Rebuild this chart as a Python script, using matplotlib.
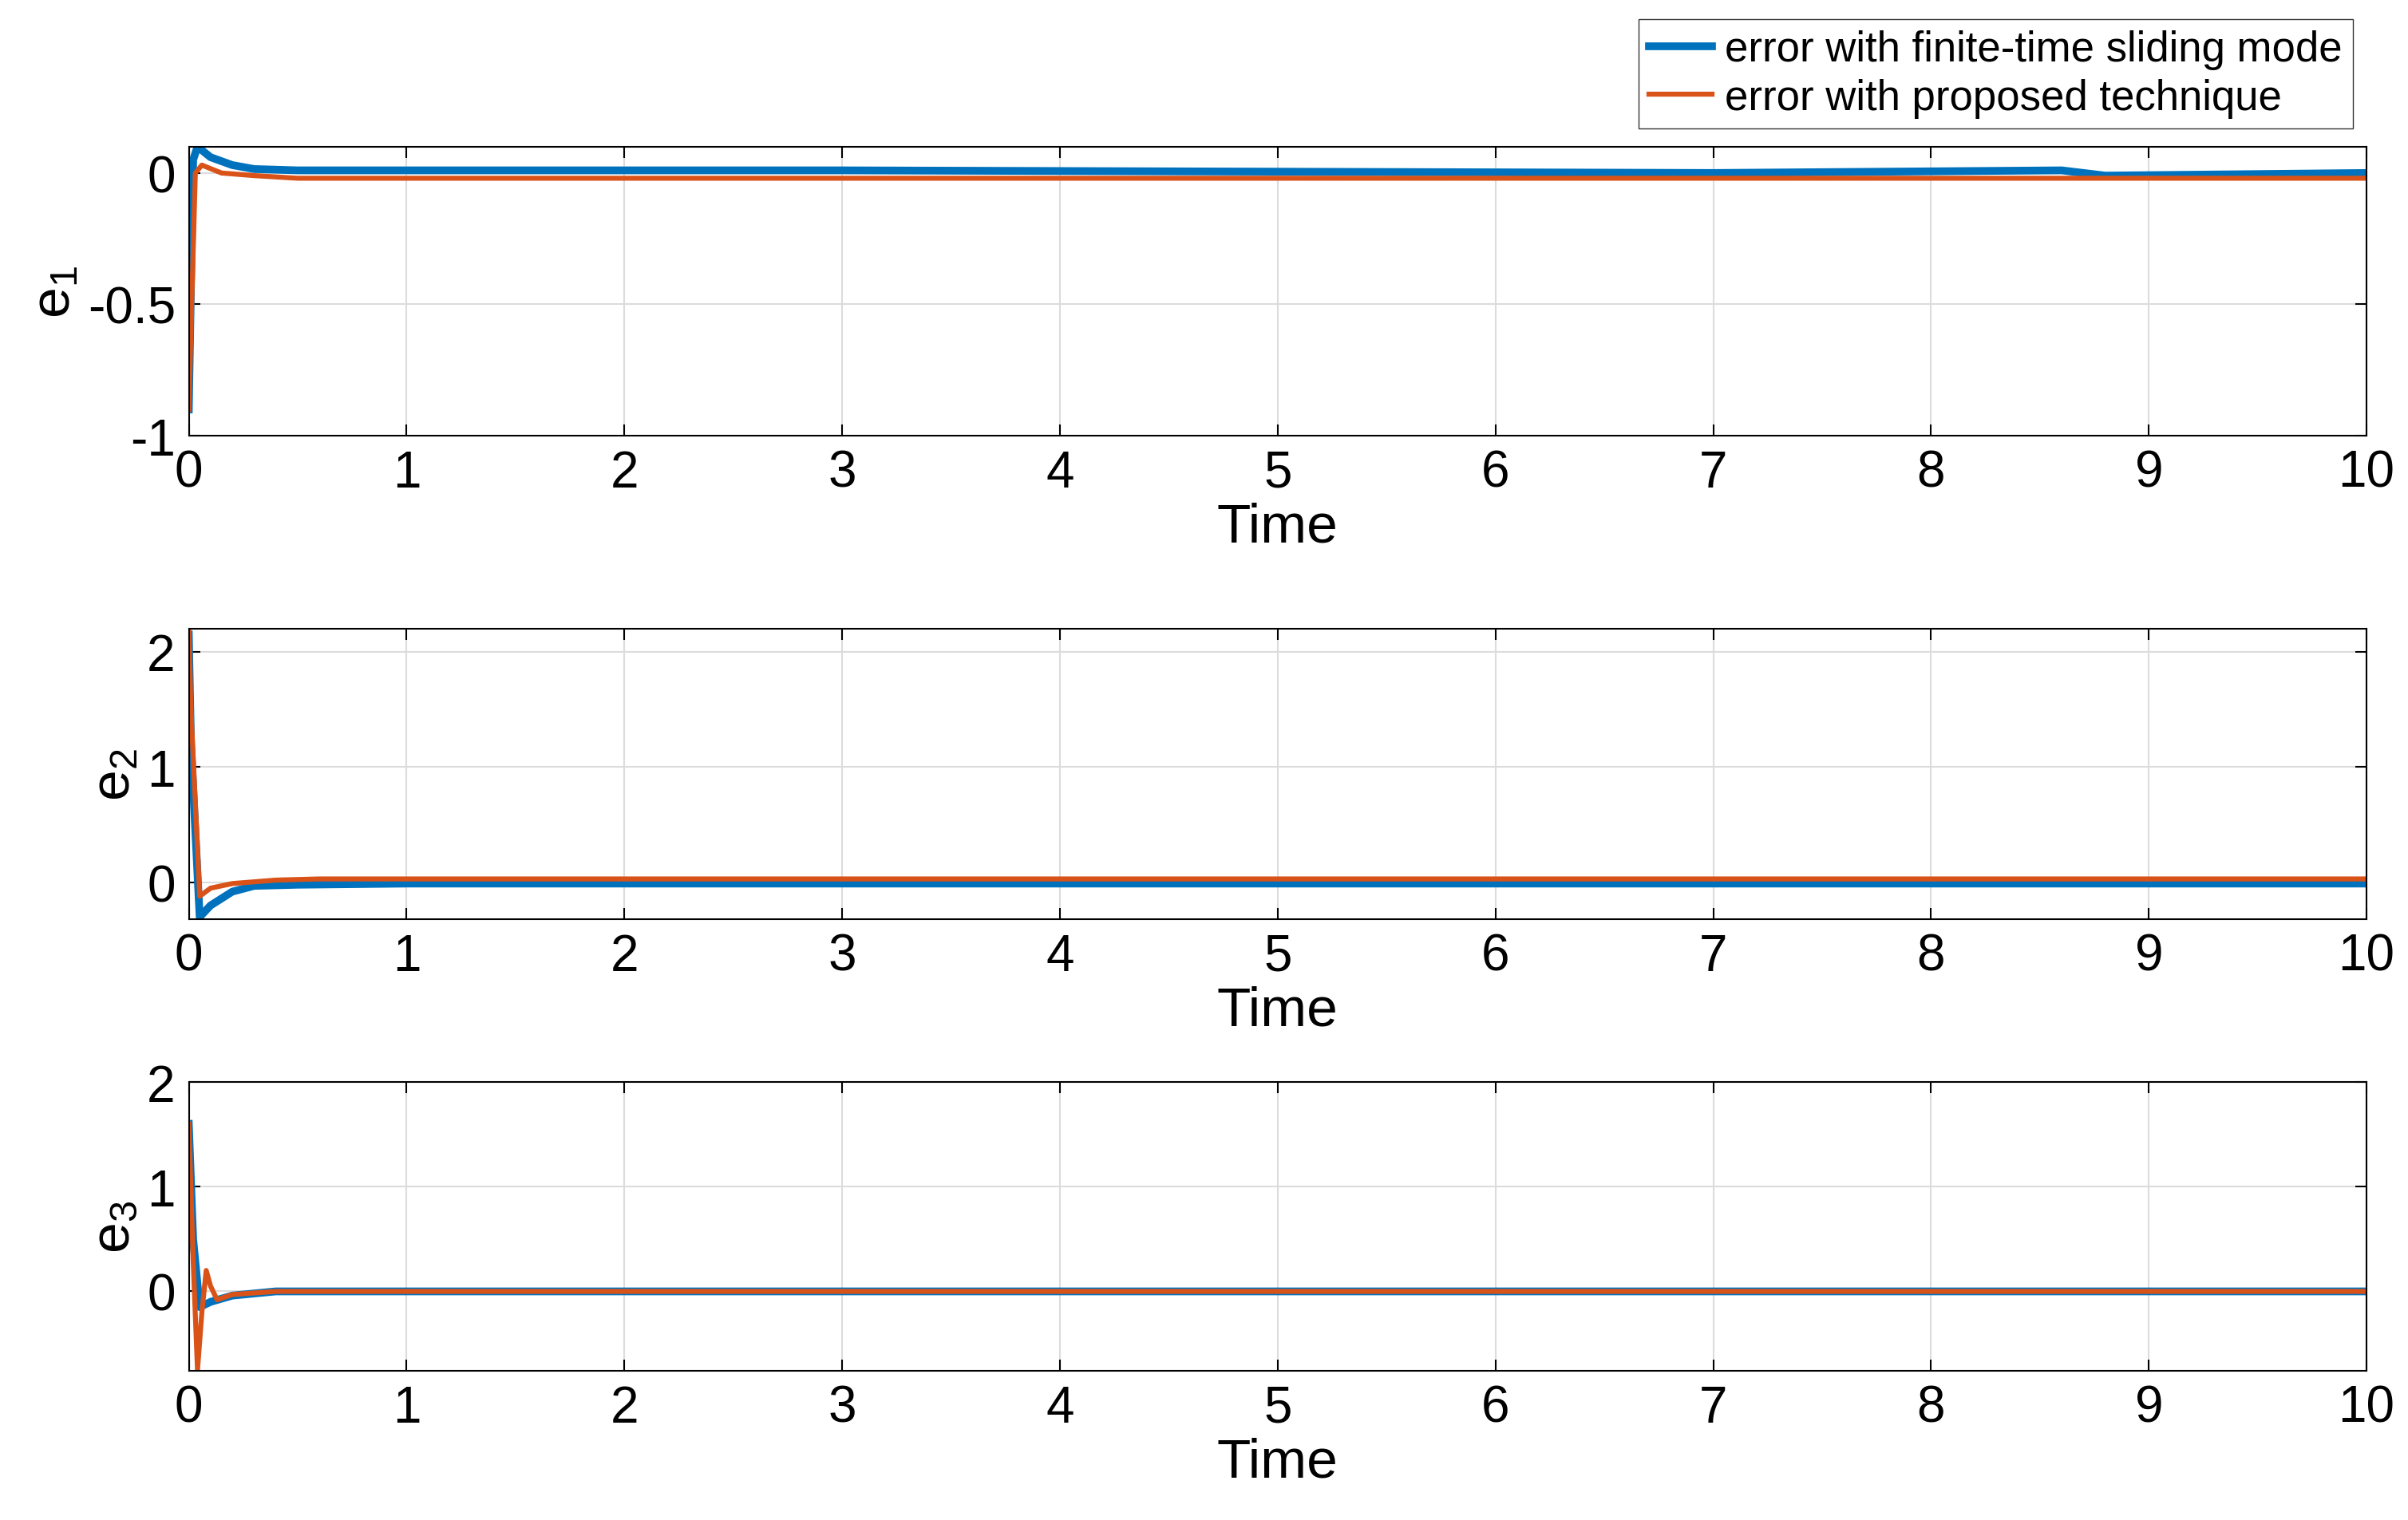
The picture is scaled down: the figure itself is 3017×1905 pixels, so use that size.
import matplotlib
matplotlib.use("Agg")
import matplotlib.pyplot as plt

plt.rcParams["font.family"] = "Liberation Sans"
plt.rcParams["mathtext.default"] = "regular"

# knot points (time, value)
t_e1_smc = [0, 0.02, 0.04, 0.1, 0.2, 0.3, 0.5, 1, 3, 5, 7, 8.6, 8.8, 10]
v_e1_smc = [-0.9, 0.05, 0.1, 0.06, 0.03, 0.015, 0.01, 0.01, 0.01, 0.005, 0.0, 0.01, -0.01, 0.0]
t_e1_pro = [0, 0.03, 0.06, 0.15, 0.3, 0.5, 0.7, 10]
v_e1_pro = [-0.9, 0.0, 0.03, 0.0, -0.01, -0.02, -0.02, -0.02]

t_e2_smc = [0, 0.01, 0.05, 0.1, 0.2, 0.3, 0.5, 1, 10]
v_e2_smc = [2.15, 1.2, -0.3, -0.2, -0.08, -0.03, -0.02, -0.01, -0.01]
t_e2_pro = [0, 0.01, 0.05, 0.1, 0.2, 0.4, 0.6, 10]
v_e2_pro = [2.2, 1.5, -0.12, -0.05, -0.01, 0.02, 0.03, 0.03]

t_e3_smc = [0, 0.02, 0.05, 0.1, 0.2, 0.4, 1, 10]
v_e3_smc = [1.6, 0.5, -0.15, -0.1, -0.04, 0.0, 0.0, 0.0]
t_e3_pro = [0, 0.02, 0.04, 0.06, 0.08, 0.1, 0.13, 0.2, 0.4, 10]
v_e3_pro = [1.6, 0.3, -0.75, -0.2, 0.2, 0.05, -0.08, -0.03, 0.0, 0.0]

ylims = [(-1, 0.1), (-0.32, 2.2), (-0.76, 2)]
yticks = [[-1, -0.5, 0], [0, 1, 2], [0, 1, 2]]
yticklabels = [["-1", "-0.5", "0"], ["0", "1", "2"], ["0", "1", "2"]]
ylabels = ["e$_1$", "e$_2$", "e$_3$"]
xticks = list(range(0, 11))

blue = "#0072BD"
orange = "#D95319"

fig = plt.figure(figsize=(30.17, 19.06), dpi=100)
rects = [(0.0784, 0.713, 0.9044, 0.190), (0.0784, 0.395, 0.9044, 0.191), (0.0784, 0.098, 0.9044, 0.190)]
data = [(t_e1_smc, v_e1_smc, t_e1_pro, v_e1_pro),
        (t_e2_smc, v_e2_smc, t_e2_pro, v_e2_pro),
        (t_e3_smc, v_e3_smc, t_e3_pro, v_e3_pro)]
for i, r in enumerate(rects):
    ax = fig.add_axes(r)
    ts, vs, tp, vp = data[i]
    l1, = ax.plot(ts, vs, color=blue, lw=7, label="error with finite-time sliding mode")
    l2, = ax.plot(tp, vp, color=orange, lw=4.5, label="error with proposed technique")
    ax.set_xlim(0, 10)
    ax.set_ylim(*ylims[i])
    ax.set_xticks(xticks)
    ax.set_yticks(yticks[i])
    ax.set_yticklabels(yticklabels[i])
    ax.tick_params(labelsize=46, direction="in", length=10, width=1.5, top=True, right=True, pad=12)
    ax.grid(True, color="#dcdcdc", lw=1.5)
    for s in ax.spines.values():
        s.set_linewidth(1.5)
    ax.set_xlabel("Time", fontsize=50, labelpad=4)
    ax.set_ylabel(ylabels[i], fontsize=50, labelpad=6)
    if i == 0:
        fig.legend(handles=[l1, l2], loc="upper right", bbox_to_anchor=(0.977, 0.987),
                   fontsize=38, frameon=True, fancybox=False, edgecolor="black",
                   handlelength=1.5, handletextpad=0.3, borderpad=0.25, labelspacing=0.2,
                   borderaxespad=0)
fig.savefig("out.png", dpi=100, facecolor="white")
